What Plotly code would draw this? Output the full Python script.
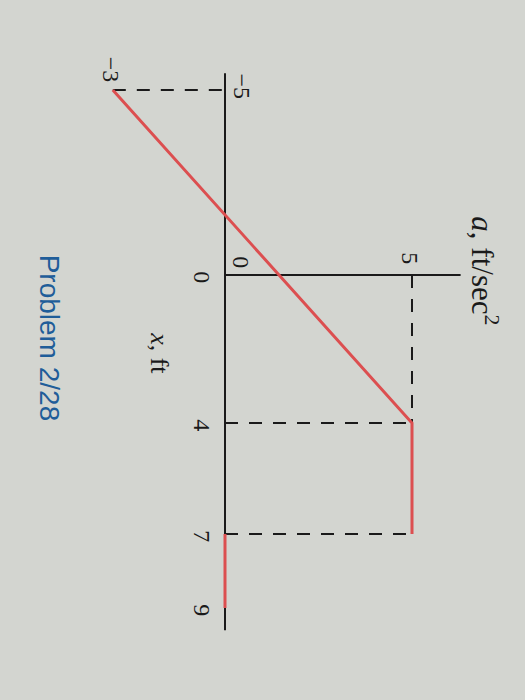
import plotly.graph_objects as go

# Data (original chart semantics): a (ft/sec^2) as a function of x (ft)
x_ft = [-5, 4, 4, 7]
a_vals = [-3, 5, 5, 5]
x_zero_seg = [7, 9]
a_zero_seg = [0, 0]

# Guide (dashed) lines
dash_x = [[-5, -5], [0, 4], [4, 4], [7, 7]]
dash_a = [[-3, 0], [5, 5], [0, 5], [0, 5]]

# Axis extents
x_axis_x = [-5.45, 9.6]
x_axis_a = [0, 0]
a_axis_x = [0, 0]
a_axis_a = [0, 6.3]

x_tick_vals = [-5, 0, 4, 7, 9]
x_tick_text = ["−5", "0", "4", "7", "9"]
a_tick_vals = [-3, 0, 5]
a_tick_text = ["−3", "0", "5"]

RED = "#dc4f50"
BLACK = "#1a1a1a"
BG = "#d3d5d0"

fig = go.Figure()

# axes lines
fig.add_trace(go.Scatter(x=x_axis_a, y=x_axis_x, mode="lines",
                         line=dict(color=BLACK, width=2), hoverinfo="skip"))
fig.add_trace(go.Scatter(x=a_axis_a, y=a_axis_x, mode="lines",
                         line=dict(color=BLACK, width=2), hoverinfo="skip"))

# dashed guides
for xs, as_ in zip(dash_x, dash_a):
    fig.add_trace(go.Scatter(x=as_, y=xs, mode="lines",
                             line=dict(color=BLACK, width=2, dash="13px,11px"),
                             hoverinfo="skip"))

# red a-x curve
fig.add_trace(go.Scatter(x=a_vals, y=x_ft, mode="lines",
                         line=dict(color=RED, width=3), hoverinfo="skip"))
fig.add_trace(go.Scatter(x=a_zero_seg, y=x_zero_seg, mode="lines",
                         line=dict(color=RED, width=3), hoverinfo="skip"))

SERIF = "Liberation Serif"
ann = []
# x-axis tick labels (below axis in original => left in rotated view)
for v, t in zip(x_tick_vals, x_tick_text):
    if v == -5:
        ann.append(dict(x=0.45, y=v - 0.1, text=t))
    else:
        ann.append(dict(x=-0.6, y=v + 0.05, text=t))
# a-axis tick labels
ann.append(dict(x=-3.05, y=-5.55, text=a_tick_text[0]))
ann.append(dict(x=0.42, y=-0.35, text=a_tick_text[1]))
ann.append(dict(x=4.95, y=-0.45, text=a_tick_text[2]))

annotations = []
for a in ann:
    annotations.append(dict(x=a["x"], y=a["y"], text=a["text"], showarrow=False,
                            textangle=90, font=dict(family=SERIF, size=24, color=BLACK),
                            xref="x", yref="y"))

annotations.append(dict(x=6.95, y=-0.1, text="<i>a</i>, ft/sec<sup>2</sup>",
                        showarrow=False, textangle=90,
                        font=dict(family=SERIF, size=31, color=BLACK)))
annotations.append(dict(x=-1.75, y=2.1, text="<i>x</i>, ft",
                        showarrow=False, textangle=90,
                        font=dict(family=SERIF, size=26, color=BLACK)))
annotations.append(dict(x=-4.7, y=1.7, text="Problem 2/28",
                        showarrow=False, textangle=90,
                        font=dict(family="Liberation Sans", size=28, color="#1f5d99")))

fig.update_layout(
    width=525, height=700,
    margin=dict(l=0, r=0, t=0, b=0),
    paper_bgcolor=BG, plot_bgcolor=BG,
    showlegend=False,
    xaxis=dict(range=[-225 / 37.4, 300 / 37.4], visible=False, fixedrange=True),
    yaxis=dict(range=[425 / 37.0, -275 / 37.0], visible=False, fixedrange=True),
    annotations=annotations,
)

fig.write_html(
    "out.html",
    config={"displayModeBar": False},
    post_script="document.body.style.margin='0';document.body.style.background='%s';" % BG,
)
